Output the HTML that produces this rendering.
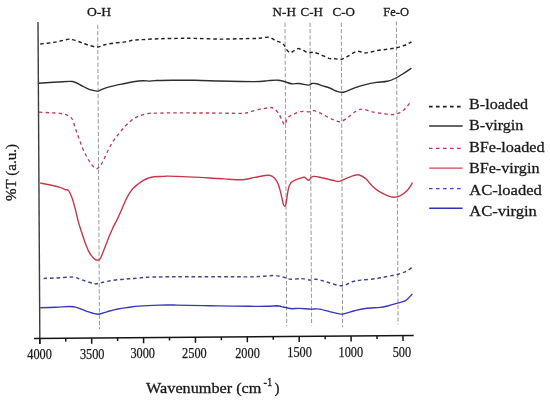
<!DOCTYPE html>
<html><head><meta charset="utf-8"><style>
html,body{margin:0;padding:0;background:#fff;}
svg{display:block;}
text{font-family:"Liberation Serif","DejaVu Serif",serif;fill:#1a1a1a;}
</style></head><body>
<svg width="550" height="401" viewBox="0 0 550 401">
<rect width="550" height="401" fill="#fff"/>
<g stroke="#9a9a9a" stroke-width="1" stroke-dasharray="4.3 2" fill="none"><line x1="97.7" y1="24.7" x2="99.5" y2="329.0"/><line x1="285.0" y1="22.7" x2="286.7" y2="326.0"/><line x1="310.0" y1="22.7" x2="311.6" y2="325.4"/><line x1="341.3" y1="22.7" x2="342.6" y2="327.4"/><line x1="396.4" y1="21.3" x2="398.1" y2="324.6"/></g>
<g fill="none" stroke-linejoin="round" stroke-linecap="butt">
<path d="M40.2,44.0 C42.2,43.8 49.0,43.1 52.5,42.6 C56.0,42.1 58.5,41.4 61.2,40.8 C64.0,40.2 67.1,39.3 69.0,39.1 C70.9,38.9 70.6,39.1 72.5,39.6 C74.4,40.1 77.9,41.3 80.4,42.2 C82.9,43.1 84.6,44.0 87.4,44.8 C90.2,45.6 94.1,47.1 97.0,47.1 C99.9,47.1 102.0,45.5 104.8,44.8 C107.5,44.1 110.1,43.6 113.5,43.1 C116.9,42.6 121.6,42.4 125.0,41.9 C128.4,41.4 130.8,40.5 133.7,40.1 C136.6,39.7 138.1,39.8 142.5,39.6 C146.9,39.4 154.1,38.9 159.9,38.7 C165.7,38.5 171.6,38.5 177.4,38.4 C183.2,38.3 187.8,38.3 194.8,38.4 C201.8,38.5 211.5,39.0 219.2,39.1 C226.9,39.2 234.9,38.8 241.2,38.7 C247.5,38.6 253.3,38.5 256.9,38.4 C260.5,38.2 260.9,38.0 263.0,37.8 C265.1,37.6 267.6,36.8 269.7,37.3 C271.8,37.8 273.5,39.6 275.4,40.5 C277.3,41.4 279.6,41.8 281.1,42.6 C282.6,43.4 283.4,44.3 284.3,45.4 C285.2,46.5 285.4,47.9 286.3,49.1 C287.2,50.3 288.7,52.4 290.0,52.7 C291.3,53.0 292.6,51.4 294.0,50.7 C295.4,50.0 296.6,48.7 298.1,48.6 C299.6,48.5 301.2,49.6 303.0,50.3 C304.8,51.0 306.9,52.4 308.6,52.7 C310.4,53.1 311.6,52.1 313.5,52.4 C315.4,52.7 317.4,53.3 320.0,54.3 C322.6,55.3 326.6,57.7 328.9,58.4 C331.2,59.1 332.1,58.2 334.0,58.4 C335.9,58.6 338.1,59.9 340.4,59.5 C342.7,59.1 345.3,57.6 348.0,56.2 C350.7,54.9 353.9,52.0 356.8,51.4 C359.7,50.8 362.2,53.0 365.5,52.9 C368.8,52.8 372.8,51.3 376.4,50.7 C380.0,50.1 384.0,49.7 387.3,49.2 C390.6,48.7 393.1,48.5 396.0,47.9 C398.9,47.2 402.2,46.3 404.8,45.3 C407.4,44.3 410.3,42.5 411.4,42.0" stroke="#222" stroke-width="1.45" stroke-dasharray="3.6 2.9"/>
<path d="M38.5,83.2 C41.7,83.0 52.0,82.3 57.7,82.0 C63.4,81.7 68.7,81.0 72.5,81.5 C76.3,82.0 77.6,83.7 80.4,85.0 C83.2,86.3 86.3,88.3 89.1,89.3 C91.9,90.3 95.3,90.9 97.0,91.1 C98.7,91.3 97.9,91.1 99.4,90.6 C100.9,90.0 103.4,88.6 105.9,87.8 C108.4,87.0 111.7,86.3 114.6,85.6 C117.5,84.9 120.3,84.4 123.4,83.8 C126.5,83.2 129.9,82.3 133.2,81.8 C136.5,81.3 140.3,80.8 143.0,80.7 C145.7,80.6 147.5,81.1 149.5,81.1 C151.5,81.1 151.2,80.7 155.0,80.6 C158.8,80.5 165.5,80.3 172.1,80.3 C178.7,80.2 187.0,80.2 194.8,80.3 C202.7,80.4 211.5,80.8 219.2,81.0 C226.9,81.2 234.4,81.4 241.2,81.5 C248.0,81.6 255.5,81.7 260.0,81.5 C264.5,81.3 265.1,80.8 268.1,80.6 C271.1,80.4 275.1,80.0 277.8,80.2 C280.5,80.4 282.0,80.9 284.3,81.5 C286.6,82.1 289.2,83.5 291.6,83.8 C294.0,84.1 296.1,83.3 298.9,83.5 C301.7,83.7 306.4,85.1 308.6,85.1 C310.8,85.1 310.5,83.7 311.9,83.5 C313.2,83.3 315.0,83.4 316.7,83.8 C318.4,84.2 319.6,85.0 321.8,85.7 C324.0,86.4 327.3,87.1 329.7,88.0 C332.1,88.9 333.7,90.3 336.0,91.0 C338.3,91.7 340.6,92.7 343.7,92.2 C346.8,91.7 351.0,89.2 354.6,87.9 C358.2,86.6 361.9,85.5 365.5,84.6 C369.1,83.7 372.8,83.0 376.4,82.4 C380.0,81.9 384.0,82.0 387.3,81.3 C390.6,80.6 393.1,79.5 396.0,78.0 C398.9,76.5 402.2,74.2 404.8,72.6 C407.4,71.0 410.3,68.9 411.4,68.2" stroke="#2e2e2e" stroke-width="1.4"/>
<path d="M39.1,112.1 C40.9,112.2 46.5,112.6 50.0,112.8 C53.5,113.0 57.2,113.0 60.0,113.4 C62.8,113.8 65.0,114.2 67.0,115.1 C69.0,116.0 70.8,116.6 72.2,119.0 C73.7,121.4 74.5,126.1 75.7,129.4 C76.9,132.7 78.0,135.8 79.2,139.0 C80.4,142.2 81.4,145.5 82.7,148.6 C84.0,151.7 85.6,154.8 87.1,157.4 C88.5,160.0 90.0,162.4 91.4,164.3 C92.9,166.2 94.5,168.2 95.8,168.7 C97.1,169.1 98.0,168.4 99.3,167.0 C100.6,165.6 102.0,163.1 103.6,160.0 C105.2,156.9 107.2,151.9 108.9,148.6 C110.7,145.2 112.2,142.7 114.1,139.9 C116.0,137.2 118.2,134.6 120.2,132.1 C122.2,129.6 124.1,127.3 126.3,125.1 C128.5,122.9 131.0,120.6 133.3,119.0 C135.6,117.4 137.7,116.4 140.3,115.5 C142.9,114.6 145.8,113.8 149.0,113.4 C152.2,113.0 154.9,113.2 159.5,113.1 C164.1,113.0 170.5,112.8 176.8,112.8 C183.1,112.8 190.6,113.0 197.5,113.0 C204.4,113.0 210.8,113.0 218.3,113.1 C225.8,113.1 237.4,113.5 242.6,113.3 C247.8,113.1 246.6,112.7 249.5,112.0 C252.4,111.3 257.3,109.8 259.9,109.2 C262.5,108.6 263.2,108.7 265.0,108.4 C266.8,108.1 269.0,107.4 270.6,107.5 C272.2,107.6 273.3,108.0 274.7,109.0 C276.1,110.0 277.6,112.0 278.8,113.8 C280.0,115.6 280.8,118.0 281.8,119.8 C282.8,121.6 283.8,125.2 284.8,124.8 C285.8,124.4 286.5,119.2 287.8,117.5 C289.1,115.8 290.9,115.8 292.6,114.9 C294.3,114.0 296.0,112.9 297.8,112.3 C299.6,111.7 301.4,111.4 303.2,111.3 C305.0,111.2 306.9,111.9 308.7,111.8 C310.5,111.7 312.0,110.3 314.2,110.7 C316.4,111.1 318.7,112.5 321.8,114.0 C324.9,115.5 329.7,118.2 332.8,119.5 C335.9,120.8 337.9,122.1 340.4,121.7 C342.9,121.3 345.3,119.1 348.0,117.3 C350.7,115.5 354.2,112.0 356.8,110.7 C359.4,109.4 360.8,109.0 363.3,109.2 C365.8,109.4 368.7,111.1 372.0,111.8 C375.3,112.5 379.4,113.1 383.0,113.6 C386.6,114.0 390.8,114.8 393.9,114.5 C397.0,114.2 399.3,113.1 401.5,111.8 C403.7,110.5 405.4,108.2 407.0,106.4 C408.6,104.6 410.7,101.8 411.4,100.9" stroke="#bb3d5c" stroke-width="1.35" stroke-dasharray="3.4 3.1"/>
<path d="M40.2,183.0 C41.7,183.3 45.9,184.0 49.2,184.7 C52.5,185.4 57.3,186.6 60.0,187.4 C62.7,188.2 63.9,189.1 65.3,189.6 C66.7,190.1 67.4,189.4 68.5,190.6 C69.6,191.8 70.6,194.2 71.7,197.0 C72.8,199.8 73.9,203.7 74.9,207.6 C76.0,211.5 77.0,216.4 78.0,220.3 C79.0,224.2 80.0,227.1 81.2,231.0 C82.5,234.9 84.1,240.0 85.5,243.7 C86.9,247.4 88.3,250.7 89.7,253.2 C91.1,255.7 92.8,257.4 94.0,258.6 C95.2,259.8 96.2,260.3 97.2,260.3 C98.2,260.3 99.2,260.3 100.3,258.6 C101.4,256.9 102.5,253.4 103.9,250.0 C105.3,246.6 107.0,241.8 108.5,238.2 C110.0,234.6 111.3,231.3 112.7,228.2 C114.1,225.1 115.6,222.7 117.1,219.6 C118.6,216.5 120.4,212.5 121.7,209.5 C123.0,206.5 123.9,204.1 125.1,201.5 C126.3,198.9 127.6,196.4 128.9,194.2 C130.2,192.0 131.6,190.0 133.2,188.3 C134.8,186.6 136.6,185.3 138.2,184.0 C139.8,182.7 141.3,181.6 143.0,180.6 C144.7,179.6 146.7,178.7 148.6,178.0 C150.5,177.3 151.5,177.0 154.2,176.7 C156.9,176.4 161.1,176.2 164.9,176.2 C168.7,176.1 171.9,176.2 176.8,176.4 C181.7,176.6 187.2,176.8 194.1,177.1 C201.0,177.4 212.5,178.2 218.3,178.5 C224.1,178.8 224.8,179.0 228.8,179.2 C232.9,179.4 238.3,180.0 242.6,179.7 C246.9,179.4 251.0,178.1 254.7,177.4 C258.4,176.7 262.4,175.8 265.0,175.5 C267.6,175.2 268.6,175.1 270.2,175.5 C271.8,175.9 273.2,176.8 274.4,178.0 C275.6,179.2 276.7,180.9 277.6,182.7 C278.5,184.5 279.0,186.5 279.7,188.9 C280.4,191.3 281.2,194.8 281.8,197.3 C282.4,199.8 282.8,202.6 283.3,204.1 C283.8,205.6 284.3,206.2 284.7,206.2 C285.1,206.2 285.5,205.6 285.9,204.1 C286.3,202.6 286.6,200.0 287.0,197.3 C287.4,194.6 288.0,190.2 288.6,187.9 C289.2,185.6 289.8,184.4 290.7,183.2 C291.6,182.0 292.8,181.4 294.3,180.6 C295.8,179.8 297.9,179.1 299.6,178.5 C301.3,177.9 302.9,177.0 304.4,177.3 C305.9,177.6 307.2,180.5 308.7,180.3 C310.1,180.2 310.9,176.8 313.1,176.4 C315.3,176.0 318.5,177.0 321.8,177.7 C325.1,178.3 329.9,179.7 332.8,180.3 C335.7,180.9 336.8,181.8 339.3,181.4 C341.8,181.0 344.9,178.8 348.0,177.7 C351.1,176.6 355.0,174.7 357.9,174.8 C360.8,174.9 363.1,176.7 365.5,178.5 C367.9,180.3 369.8,183.6 372.0,185.7 C374.2,187.8 376.1,189.5 378.6,191.2 C381.2,192.8 384.8,194.6 387.3,195.6 C389.9,196.6 391.7,197.3 393.9,197.3 C396.1,197.3 398.2,196.7 400.4,195.6 C402.6,194.5 405.2,192.6 407.0,190.8 C408.8,189.0 410.5,186.1 411.4,184.7 C412.3,183.3 412.2,182.9 412.4,182.5" stroke="#c8364a" stroke-width="1.4"/>
<path d="M43.6,278.5 C45.6,278.4 50.8,278.2 55.7,278.0 C60.6,277.8 69.0,276.9 73.0,277.1 C77.0,277.3 77.6,278.5 79.9,279.2 C82.2,279.9 84.3,280.6 86.8,281.4 C89.2,282.1 92.4,283.4 94.6,283.7 C96.8,284.0 97.6,283.5 99.8,283.1 C102.0,282.7 104.5,282.0 107.5,281.4 C110.5,280.8 114.3,280.1 117.9,279.7 C121.5,279.3 125.6,279.1 129.1,278.8 C132.6,278.5 135.2,278.3 138.8,278.0 C142.4,277.7 144.6,277.3 150.9,277.1 C157.2,276.9 165.6,276.8 176.8,276.7 C188.0,276.6 206.2,276.7 218.3,276.7 C230.4,276.7 242.3,276.9 249.5,276.9 C256.7,276.8 257.6,276.6 261.6,276.4 C265.6,276.2 270.5,275.5 273.7,275.5 C276.9,275.5 278.6,276.0 280.6,276.4 C282.6,276.8 284.1,277.3 285.8,277.8 C287.5,278.3 288.7,279.2 291.0,279.3 C293.3,279.4 297.7,278.8 299.6,278.7 C301.5,278.6 300.3,278.4 302.2,278.6 C304.1,278.8 308.5,280.0 310.9,280.1 C313.3,280.2 313.8,278.9 316.4,279.2 C318.9,279.5 322.0,280.7 326.2,281.8 C330.4,282.9 337.1,285.8 341.5,285.8 C345.9,285.8 349.1,282.8 352.4,281.8 C355.7,280.9 357.1,280.6 361.1,280.1 C365.1,279.6 372.0,279.2 376.4,278.6 C380.8,278.0 383.6,277.1 387.3,276.4 C391.0,275.7 395.0,275.1 398.3,274.2 C401.6,273.3 404.6,272.1 407.0,270.9 C409.4,269.7 411.5,267.6 412.4,267.0" stroke="#44448e" stroke-width="1.45" stroke-dasharray="3.6 2.9"/>
<path d="M40.2,307.8 C42.8,307.7 50.8,307.5 55.7,307.3 C60.6,307.1 66.0,306.5 69.5,306.5 C73.0,306.5 73.6,306.5 76.5,307.3 C79.4,308.1 83.2,310.2 86.8,311.3 C90.4,312.4 94.5,314.1 98.0,314.2 C101.5,314.2 104.2,312.5 107.5,311.6 C110.8,310.7 114.3,309.7 117.9,309.0 C121.5,308.3 125.6,307.8 129.1,307.3 C132.6,306.8 133.7,306.5 138.8,306.1 C143.9,305.7 153.2,305.3 159.5,305.1 C165.8,304.9 169.6,305.0 176.8,305.1 C184.0,305.2 195.8,305.5 202.7,305.6 C209.6,305.7 210.5,305.8 218.3,305.9 C226.1,306.0 241.4,306.2 249.5,306.3 C257.6,306.4 262.2,306.4 266.8,306.3 C271.4,306.2 274.8,305.8 277.2,305.8 C279.6,305.9 279.8,306.2 281.5,306.6 C283.2,307.0 285.6,307.6 287.5,308.0 C289.4,308.4 290.7,308.6 292.7,308.7 C294.7,308.8 296.6,308.3 299.6,308.4 C302.6,308.5 307.5,309.0 310.9,309.1 C314.2,309.2 316.0,308.6 319.7,309.1 C323.4,309.7 329.0,311.6 332.8,312.4 C336.6,313.2 339.0,314.4 342.6,314.1 C346.2,313.8 350.8,311.6 354.6,310.7 C358.4,309.8 361.3,309.1 365.5,308.5 C369.7,307.9 376.3,307.8 380.0,307.4 C383.7,307.0 384.6,306.7 387.5,306.0 C390.4,305.3 394.6,304.1 397.5,303.2 C400.4,302.3 403.1,301.8 405.0,300.8 C406.9,299.9 407.8,298.6 409.0,297.5 C410.2,296.4 411.8,294.6 412.4,294.0" stroke="#3a36c0" stroke-width="1.4"/>
</g>
<line x1="38.0" y1="21.9" x2="39.85" y2="343.9" stroke="#3c3c3c" stroke-width="1.4"/>
<g stroke="#151515" stroke-width="1.5" fill="none">

<line x1="34" y1="338.50" x2="413.7" y2="335.39"/>
<line x1="39.80" y1="338.45" x2="39.83" y2="344.05"/><line x1="65.74" y1="338.24" x2="65.77" y2="341.44"/><line x1="91.68" y1="338.03" x2="91.71" y2="343.63"/><line x1="117.62" y1="337.81" x2="117.65" y2="341.01"/><line x1="143.56" y1="337.60" x2="143.59" y2="343.20"/><line x1="169.50" y1="337.39" x2="169.53" y2="340.59"/><line x1="195.44" y1="337.18" x2="195.47" y2="342.78"/><line x1="221.38" y1="336.96" x2="221.41" y2="340.16"/><line x1="247.32" y1="336.75" x2="247.35" y2="342.35"/><line x1="273.26" y1="336.54" x2="273.29" y2="339.74"/><line x1="299.20" y1="336.33" x2="299.23" y2="341.93"/><line x1="325.14" y1="336.11" x2="325.17" y2="339.31"/><line x1="351.08" y1="335.90" x2="351.11" y2="341.50"/><line x1="377.02" y1="335.69" x2="377.05" y2="338.89"/><line x1="402.96" y1="335.47" x2="402.99" y2="341.07"/>
</g>
<g font-size="14.8" stroke="#1a1a1a" stroke-width="0.25"><text x="39.6" y="358.8" text-anchor="middle" textLength="24.6" lengthAdjust="spacingAndGlyphs">4000</text><text x="92.2" y="358.6" text-anchor="middle" textLength="24.6" lengthAdjust="spacingAndGlyphs">3500</text><text x="142.7" y="358.3" text-anchor="middle" textLength="24.6" lengthAdjust="spacingAndGlyphs">3000</text><text x="194.4" y="358.0" text-anchor="middle" textLength="24.6" lengthAdjust="spacingAndGlyphs">2500</text><text x="247.5" y="357.8" text-anchor="middle" textLength="24.6" lengthAdjust="spacingAndGlyphs">2000</text><text x="299.6" y="357.1" text-anchor="middle" textLength="24.6" lengthAdjust="spacingAndGlyphs">1500</text><text x="350.8" y="357.4" text-anchor="middle" textLength="24.6" lengthAdjust="spacingAndGlyphs">1000</text><text x="401.9" y="357.1" text-anchor="middle" textLength="18.5" lengthAdjust="spacingAndGlyphs">500</text></g>
<g font-size="13.2" stroke="#1a1a1a" stroke-width="0.3">
<text x="86.9" y="16.4" textLength="24.3" lengthAdjust="spacingAndGlyphs">O-H</text>
<text x="272.6" y="16.2" textLength="23.3" lengthAdjust="spacingAndGlyphs">N-H</text>
<text x="300.5" y="16.2" textLength="22.3" lengthAdjust="spacingAndGlyphs">C-H</text>
<text x="332.6" y="16.2" textLength="22.4" lengthAdjust="spacingAndGlyphs">C-O</text>
<text x="383.3" y="15.6" textLength="25.7" lengthAdjust="spacingAndGlyphs">Fe-O</text>
</g>
<g font-size="15.5" stroke="#1a1a1a" stroke-width="0.3">
<text x="469.1" y="108.8" textLength="59" lengthAdjust="spacingAndGlyphs">B-loaded</text>
<text x="469.1" y="130.3" textLength="54.2" lengthAdjust="spacingAndGlyphs">B-virgin</text>
<text x="468.9" y="151.5" textLength="75.7" lengthAdjust="spacingAndGlyphs">BFe-loaded</text>
<text x="468.9" y="172.9" textLength="70.6" lengthAdjust="spacingAndGlyphs">BFe-virgin</text>
<text x="469.3" y="194.6" textLength="72.5" lengthAdjust="spacingAndGlyphs">AC-loaded</text>
<text x="469.3" y="215.5" textLength="67.6" lengthAdjust="spacingAndGlyphs">AC-virgin</text>
</g>
<g fill="none" stroke-width="1.6">
<line x1="429" y1="106.6" x2="461" y2="106.6" stroke="#1e1e1e" stroke-dasharray="3.6 3.4"/>
<line x1="429.2" y1="126.1" x2="462.6" y2="126.1" stroke="#333" stroke-width="1.5"/>
<line x1="429" y1="148.4" x2="461" y2="148.4" stroke="#a3425f" stroke-width="1.4" stroke-dasharray="3.6 3.4"/>
<line x1="429.2" y1="168.2" x2="462.6" y2="168.2" stroke="#d84050" stroke-width="1.3"/>
<line x1="429" y1="188.6" x2="461" y2="188.6" stroke="#48489a" stroke-width="1.4" stroke-dasharray="3.6 3.4"/>
<line x1="429.2" y1="208.2" x2="462.6" y2="208.2" stroke="#3030b4" stroke-width="1.6"/>
</g>
<text font-size="14" stroke="#1a1a1a" stroke-width="0.3" transform="translate(16.2,201) rotate(-90)" textLength="57" lengthAdjust="spacingAndGlyphs">%T (a.u.)</text>
<g stroke="#1a1a1a" stroke-width="0.3"><text font-size="15" x="146.1" y="392.5" textLength="115.3" lengthAdjust="spacingAndGlyphs">Wavenumber (cm</text>
<text font-size="11.6" x="263.4" y="386.2" textLength="8.9" lengthAdjust="spacingAndGlyphs">-1</text>
<text font-size="15" x="274.6" y="392.5">)</text></g>
</svg>
</body></html>
